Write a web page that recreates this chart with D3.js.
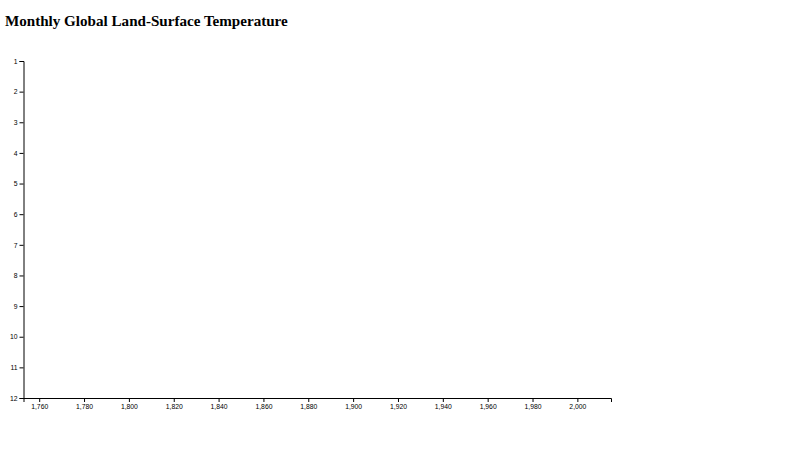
<!DOCTYPE html>
<html>
<head>
<meta charset="utf-8">
<script src="https://cdn.jsdelivr.net/npm/d3@7"></script>
<style>
  html, body { margin: 0; padding: 0; background: #fff; }
  .axis text { font-family: "Liberation Sans", Arial, sans-serif; font-size: 6.8px; fill: #000; }
</style>
</head>
<body>
<script>
const title = "Monthly Global Land-Surface Temperature";
const months = [1, 2, 3, 4, 5, 6, 7, 8, 9, 10, 11, 12];
const yearRange = [1753, 2015];
const xTickValues = [1760, 1780, 1800, 1820, 1840, 1860, 1880, 1900, 1920, 1940, 1960, 1980, 2000];
// No temperature cells are visible in the reference chart
const cells = [];

const W = 800, H = 450;
const svg = d3.select("body").append("svg").attr("width", W).attr("height", H);

svg.append("text")
  .attr("x", 5).attr("y", 26)
  .attr("font-family", "'Liberation Serif', 'Times New Roman', serif")
  .attr("font-weight", "bold")
  .attr("font-size", 15.1)
  .text(title);

const x = d3.scaleLinear().domain(yearRange).range([23.5, 611]);
const y = d3.scalePoint().domain(months).range([61, 398]);

svg.append("g").selectAll("rect").data(cells).join("rect")
  .attr("x", d => x(d.year))
  .attr("y", d => y(d.month))
  .attr("width", 2).attr("height", 30);

svg.append("g").attr("class", "axis")
  .attr("transform", "translate(0,398)")
  .call(d3.axisBottom(x).tickValues(xTickValues).tickFormat(d3.format(",")).tickSize(4).tickPadding(2));

svg.append("g").attr("class", "axis")
  .attr("transform", "translate(23.5,0)")
  .call(d3.axisLeft(y).tickSize(4).tickPadding(2));
</script>
</body>
</html>
